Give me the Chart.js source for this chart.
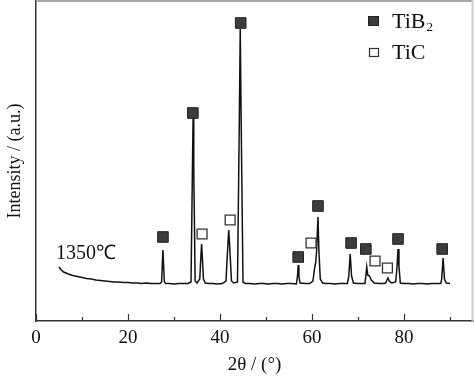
<!DOCTYPE html>
<html>
<head>
<meta charset="utf-8">
<script src="https://cdn.jsdelivr.net/npm/chart.js@4.4.0/dist/chart.umd.min.js"></script>
<style>
html,body{margin:0;padding:0;background:#fff;}
#wrap{width:474px;height:376px;position:relative;}
</style>
</head>
<body>
<div id="wrap"><canvas id="c" width="474" height="376"></canvas></div>
<script>
// XRD pattern (2θ in degrees, intensity in arbitrary units)
const theta = [5.0,5.5,6.0,7.0,8.0,9.0,10,11,12,13,14,15,16,17,18,19,20,21,22,23,24,25,26,27,27.3,27.6,27.9,28.2,29,30,31,32,33,33.7,34.0,34.15,34.3,34.6,35.0,35.6,35.85,36.0,36.15,36.4,36.8,37.5,38.5,39.5,40.5,41.3,41.7,41.9,42.1,42.5,43.0,43.8,44.2,44.4,44.6,45.0,45.5,46.5,47.5,48.5,49.5,50.5,51.5,52.5,53.5,54.5,55.5,56.6,56.85,57.0,57.15,57.4,58.5,59.5,60.2,60.6,60.8,61.0,61.3,61.5,61.8,62.3,63,64,65,66,67,67.7,68.0,68.3,68.6,69.0,70,71,71.5,71.7,71.9,72.1,72.5,72.9,73.5,74.5,75.5,76.0,76.2,76.5,76.8,77.3,78.2,78.5,78.7,78.9,79.2,80,81,82,83,84,85,86,87,88,88.2,88.5,88.8,89.2,90];
const intensity = [54,51,49,47,45.5,44.5,43.5,42.5,42,41,40.5,40,39.5,39,39,38.5,38.5,38,38,37.5,38,37.5,37.5,37.5,39,71,39,37.5,37.5,37,37.5,37.5,37.5,39,150,203,150,40,38,42,65,77,65,42,38,37.5,37.5,37,37.5,40,75,91,75,40,38,39,200,292,200,39,37.5,37.5,37,37.5,37.5,37,37.5,37.5,37,37.5,37.5,37,45,56,45,38,37.5,37.5,40,54,58,70,104,70,42,38,37.5,37.5,37,37.5,37.5,37.5,45,67,45,38,37.5,37.5,37.5,45,54,46,45,41,38,37.5,37.5,38,40,43,40,38,39,55,72,55,38,37.5,37.5,37,37.5,37.5,37,37.5,37.5,37.5,42,63,42,38,37.5];
// Phase markers
const tib2X = [27.6,34.1,44.5,57.0,61.3,68.5,71.7,78.7,88.3];
const tib2Y = [84,208,298,64,115,78,72,82,72];
const ticX = [36.1,42.2,59.8,73.7,76.4];
const ticY = [87,101,78,60,53];
const xTicks = [0,20,40,60,80];
const legendLabels = ['TiB', 'TiC'];
const tempLabel = '1350\u2103';

const serif = '"Liberation Serif","Times New Roman",serif';
const toPts = (xs, ys) => xs.map((x, i) => ({x: x, y: ys[i]}));

const decor = {
  id: 'decor',
  beforeDatasetsDraw(chart) {
    const {ctx, chartArea: a, scales: {x}} = chart;
    ctx.save();
    // top & right frame
    ctx.strokeStyle = '#a6a6a6';
    ctx.lineWidth = 2;
    ctx.beginPath(); ctx.moveTo(a.left, 1); ctx.lineTo(a.right, 1); ctx.stroke();
    ctx.strokeStyle = '#d0d0d0';
    ctx.beginPath(); ctx.moveTo(a.right - 0.5, 0); ctx.lineTo(a.right - 0.5, a.bottom); ctx.stroke();
    // inward ticks
    ctx.strokeStyle = '#333';
    ctx.lineWidth = 1.2;
    for (let v = 0; v <= 90; v += 10) {
      const px = Math.round(x.getPixelForValue(v)) + 0.5;
      const len = (v % 20 === 0) ? 7 : 4;
      ctx.beginPath(); ctx.moveTo(px, a.bottom); ctx.lineTo(px, a.bottom - len); ctx.stroke();
    }
    ctx.restore();
  },
  afterDraw(chart) {
    const {ctx} = chart;
    ctx.save();
    // legend
    ctx.fillStyle = '#3c3c3c';
    ctx.strokeStyle = '#222';
    ctx.lineWidth = 1;
    ctx.fillRect(368, 16, 11, 10);
    ctx.strokeRect(368.5, 16.5, 10, 9);
    ctx.fillStyle = '#fff';
    ctx.strokeStyle = '#333';
    ctx.lineWidth = 1.2;
    ctx.fillRect(369, 48, 10, 9);
    ctx.strokeRect(369.5, 48.5, 9, 8);
    ctx.fillStyle = '#111';
    ctx.textBaseline = 'alphabetic';
    ctx.font = '22px ' + serif;
    ctx.fillText(legendLabels[0], 392, 28);
    const w = ctx.measureText(legendLabels[0]).width;
    ctx.font = '13px ' + serif;
    ctx.fillText('2', 392 + w + 1, 31);
    ctx.font = '22px ' + serif;
    ctx.fillText(legendLabels[1], 392, 59);
    // temperature label
    ctx.font = '20px ' + serif;
    ctx.fillText(tempLabel, 56, 259);
    ctx.restore();
  }
};

new Chart(document.getElementById('c'), {
  type: 'line',
  data: {
    datasets: [
      {
        label: 'XRD',
        data: toPts(theta, intensity),
        borderColor: '#111',
        borderWidth: 1.5,
        pointRadius: 0,
        tension: 0,
        fill: false,
        order: 2
      },
      {
        label: 'TiB2',
        type: 'scatter',
        data: toPts(tib2X, tib2Y),
        showLine: false,
        pointStyle: 'rect',
        pointRadius: 7.5,
        pointBackgroundColor: '#3c3c3c',
        pointBorderColor: '#222',
        pointBorderWidth: 1,
        order: 1
      },
      {
        label: 'TiC',
        type: 'scatter',
        data: toPts(ticX, ticY),
        showLine: false,
        pointStyle: 'rect',
        pointRadius: 7,
        pointBackgroundColor: '#fff',
        pointBorderColor: '#333',
        pointBorderWidth: 1.3,
        order: 1
      }
    ]
  },
  options: {
    responsive: false,
    animation: false,
    events: [],
    layout: {autoPadding: false, padding: {top: 1, right: 1, left: 0, bottom: 0}},
    plugins: {legend: {display: false}, tooltip: {enabled: false}},
    scales: {
      x: {
        type: 'linear',
        min: 0,
        max: 95,
        grid: {display: false, drawTicks: false},
        border: {display: true, color: '#333', width: 1.5},
        ticks: {
          includeBounds: false,
          stepSize: 10,
          autoSkip: false,
          maxRotation: 0,
          padding: 6,
          color: '#111',
          font: {family: serif, size: 19},
          callback: v => xTicks.includes(v) ? String(v) : ''
        },
        title: {
          display: true,
          text: '2\u03B8 / (\u00B0)',
          color: '#111',
          font: {family: serif, size: 19},
          padding: {top: 0, bottom: 0}
        },
        afterFit(scale) { scale.height = 55; }
      },
      y: {
        min: 0,
        max: 320,
        grid: {display: false, drawTicks: false},
        border: {display: true, color: '#333', width: 1.5},
        ticks: {display: false},
        title: {
          display: true,
          text: 'Intensity / (a.u.)',
          color: '#111',
          font: {family: serif, size: 18},
          padding: {top: 4, bottom: 0}
        },
        afterFit(scale) { scale.width = 36; }
      }
    }
  },
  plugins: [decor]
});
</script>
</body>
</html>
